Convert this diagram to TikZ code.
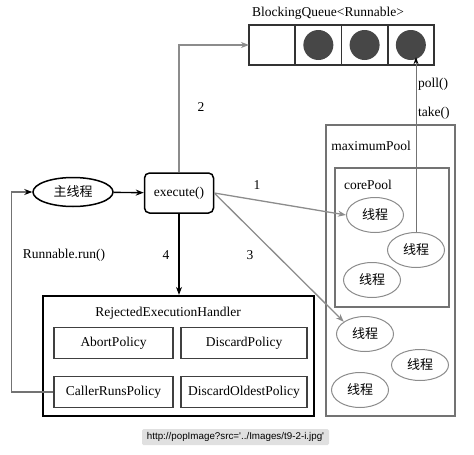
\documentclass[tikz,border=0pt]{standalone}
\usepackage{fontspec}
\setmainfont{Liberation Serif}
\newfontfamily\cjk{Noto Sans CJK SC}
\newfontfamily\tipfont{Liberation Sans}
\usetikzlibrary{arrows.meta,positioning,shapes.geometric}

\tikzset{
  cell/.style={draw=black!80, line width=1.6pt, minimum width=46.25pt, minimum height=40pt, inner sep=0pt, outer sep=0pt},
  token/.style={circle, fill=black!72, minimum size=30pt, inner sep=0pt},
  worker/.style={ellipse, draw=black!45, line width=1pt, minimum width=57pt, minimum height=35pt, inner sep=0pt, font=\cjk\fontsize{13}{15}\selectfont},
  policy/.style={draw=black!75, line width=1.8pt, minimum height=31pt, inner sep=0pt},
  pool/.style={draw=black!55, line width=1.8pt},
  garrow/.style={draw=black!45, line width=1.3pt, -{Stealth[length=8pt,width=6pt]}},
  barrow/.style={draw=black, line width=1.4pt, -{Stealth[length=8pt,width=6pt]}},
}

\begin{document}
\begin{tikzpicture}[x=1pt, y=-1pt, font=\fontsize{13.5}{16}\selectfont]
  \useasboundingbox (0,0) rectangle (474,455);

  % queue
  \node (qtitle) at (328,13) {BlockingQueue<Runnable>};
  \node[cell] (q1) at (272.1,45) {};
  \node[cell, right=0pt of q1] (q2) {};
  \node[cell, right=0pt of q2] (q3) {};
  \node[cell, right=0pt of q3] (q4) {};
  \node[token] (tok2) at (q2) {};
  \node[token] (tok3) at (q3) {};
  \node[token] (tok4) at (q4) {};

  % pools
  \draw[pool] (326,125) rectangle (455,416);
  \node (maxlabel) at (371,146) {maximumPool};
  \draw[pool, line width=1.6pt] (335,168) rectangle (449,307);
  \node (corelabel) at (368,185) {corePool};
  \node[worker] (t1) at (375,215) {线程};
  \node[worker] (t2) at (416,250) {线程};
  \node[worker] (t3) at (372,280) {线程};
  \node[worker] (t4) at (365,334) {线程};
  \node[worker, minimum height=31pt] (t5) at (420,365) {线程};
  \node[worker] (t6) at (360,390) {线程};

  % main thread and execute
  \node[ellipse, draw, line width=1.5pt, minimum width=80pt, minimum height=29pt, inner sep=0pt, font=\cjk\fontsize{13}{15}\selectfont] (main) at (73,192) {主线程};
  \node[draw, rounded corners=5pt, line width=1.5pt, minimum width=69pt, minimum height=40pt] (exec) at (179,193) {execute()};

  % handler
  \node[draw, line width=2.2pt, minimum width=271pt, minimum height=120pt, inner sep=0pt] (handler) at (178.5,356) {};
  \node (hlabel) at (168,313) {RejectedExecutionHandler};
  \node[policy, minimum width=119pt] (abort) at (113.5,343) {AbortPolicy};
  \node[policy, minimum width=126pt] (discard) at (244,343) {DiscardPolicy};
  \node[policy, minimum width=119pt] (caller) at (113.5,392) {CallerRunsPolicy};
  \node[policy, minimum width=126pt] (oldest) at (244,392) {DiscardOldestPolicy};

  % connectors
  \draw[barrow] (main) -- (exec);
  \draw[garrow] (exec.north) |- (q1.west);
  \node (n2) at (201,107) {2};
  \draw[garrow] (exec.east) -- (t1.west);
  \node (n1) at (257,185) {1};
  \draw[garrow] (exec.east) -- (t4.150);
  \node (n3) at (250,255) {3};
  \draw[barrow] (exec.south) -- (exec.south |- handler.north);
  \node (n4) at (166,255) {4};
  \draw[draw=black!55, line width=1.2pt, -{Stealth[black,length=8pt,width=6pt]}] (caller.west) -- ++(-42,0) |- (main.west);
  \node (runlabel) at (64,255) {Runnable.run()};
  \draw[draw=black!55, line width=1pt, -{Stealth[black,length=7pt,width=5pt]}] (t2.north) -- ([yshift=3pt]t2.north |- tok4.south);
  \node[anchor=west, inner sep=0pt] (poll) at (418,84) {poll()};
  \node[anchor=west, inner sep=0pt] (take) at (418,113) {take()};

  % tooltip
  \node[fill=black!12, rounded corners=1.5pt, minimum width=187pt, minimum height=16pt, inner sep=0pt, font=\tipfont\fontsize{9.8}{11}\selectfont] (tip) at (235.5,437) {http://popImage?src='../Images/t9-2-i.jpg'};
\end{tikzpicture}
\end{document}
